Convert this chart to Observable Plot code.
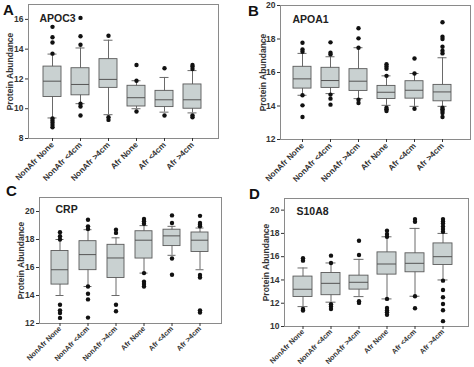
<!DOCTYPE html>
<html>
<head>
<meta charset="utf-8">
<script src="https://cdn.jsdelivr.net/npm/d3@7"></script>
<script src="https://cdn.jsdelivr.net/npm/@observablehq/plot@0.6"></script>
<style>
  html, body { margin: 0; padding: 0; background: #fff; }
  #root { position: relative; width: 474px; height: 367px; overflow: hidden; font-family: "Liberation Sans", Arial, sans-serif; }
  .panel { position: absolute; overflow: visible; }
  .letter { position: absolute; font-weight: bold; font-size: 15px; color: #111; }
</style>
</head>
<body>
<div id="root"></div>
<script>
const categories = ["NonAfr None", "NonAfr <4cm", "NonAfr >4cm", "Afr None", "Afr <4cm", "Afr >4cm"];

// Panel A — APOC3
const apoc3Q1 = [10.79, 10.9, 11.4, 10.15, 10.11, 10.0];
const apoc3Median = [11.85, 11.63, 11.97, 10.74, 10.6, 10.6];
const apoc3Q3 = [12.83, 12.72, 13.33, 11.54, 11.2, 11.63];
const apoc3Low = [9.38, 10.34, 9.6, 10.0, 9.77, 9.72];
const apoc3High = [13.67, 14.08, 14.6, 11.88, 12.1, 12.56];
const apoc3Outliers = [
  [15.5, 14.8, 14.45, 13.7, 9.35, 9.2, 9.05, 8.9, 8.75],
  [16.1, 14.87, 14.3, 10.34, 10.15, 9.54],
  [14.9, 9.43, 9.25],
  [12.94, 11.88, 9.81],
  [12.72, 9.54],
  [12.94, 12.83, 12.67, 9.54, 9.43]
];
const apoc3Ticks = [8, 10, 12, 14, 16];

// Panel B — APOA1
const apoa1Q1 = [15.04, 15.08, 14.9, 14.42, 14.44, 14.28];
const apoa1Median = [15.62, 15.52, 15.48, 14.82, 14.94, 14.84];
const apoa1Q3 = [16.34, 16.28, 16.2, 15.2, 15.48, 15.26];
const apoa1Low = [14.64, 14.74, 14.44, 14.04, 13.98, 13.98];
const apoa1High = [17.14, 16.94, 17.48, 15.8, 15.94, 16.88];
const apoa1Outliers = [
  [17.78, 17.38, 17.24, 14.64, 14.04, 13.34],
  [17.8, 17.18, 17.08, 14.68, 14.44, 14.08],
  [18.64, 18.04, 17.48, 14.38, 14.18],
  [16.5, 16.36, 16.22, 15.8, 13.9, 13.8, 13.7],
  [16.84, 15.94, 13.84],
  [19.0, 18.14, 18.0, 17.54, 17.3, 17.14, 13.9, 13.8, 13.7, 13.58, 13.34]
];
const apoa1Ticks = [12, 14, 16, 18, 20];

// Panel C — CRP
const crpQ1 = [14.78, 15.81, 15.25, 16.64, 17.53, 17.11];
const crpMedian = [15.84, 16.92, 16.68, 17.95, 18.26, 17.95];
const crpQ3 = [17.18, 17.88, 17.62, 18.59, 18.7, 18.5];
const crpLow = [14.0, 14.64, 14.0, 15.6, 16.87, 15.84];
const crpHigh = [18.0, 18.7, 18.12, 18.99, 18.94, 18.82];
const crpOutliers = [
  [18.52, 18.24, 18.0, 13.34, 12.94, 12.75, 12.4],
  [19.41, 18.94, 18.75, 14.64, 14.12, 13.72, 12.42],
  [18.7, 18.47, 13.34, 12.87],
  [19.46, 19.3, 19.13, 15.6, 14.99, 14.82, 14.64],
  [19.72, 19.18, 16.64, 15.48],
  [19.69, 19.18, 19.06, 18.94, 15.46, 15.29, 12.94, 12.78]
];
const crpTicks = [12, 14, 16, 18, 20];

// Panel D — S10A8
const s10a8Q1 = [12.54, 12.69, 13.17, 14.46, 14.66, 15.29];
const s10a8Median = [13.2, 13.71, 13.8, 15.37, 15.43, 16.0];
const s10a8Q3 = [14.29, 14.6, 14.37, 16.37, 16.29, 17.14];
const s10a8Low = [11.71, 12.09, 12.57, 12.37, 12.6, 14.0];
const s10a8High = [15.03, 15.46, 15.77, 17.71, 18.43, 18.0];
const s10a8Outliers = [
  [15.86, 15.66, 11.51, 11.37],
  [16.09, 15.46, 11.91, 11.71, 11.51],
  [17.37, 16.14, 12.17, 12.03],
  [18.23, 17.94, 17.71, 12.37, 11.6, 11.37, 11.23, 11.0],
  [19.23, 19.0, 12.6, 11.57],
  [19.23, 19.03, 18.86, 18.6, 18.37, 18.14, 13.94, 13.14, 12.51, 11.94, 11.4, 10.46]
];
const s10a8Ticks = [10, 12, 14, 16, 18, 20];

const BOX_FILL = "#c9d1d1";
const BOX_STROKE = "#5a5a5a";

function panel(cfg) {
  const boxes = categories.map((c, i) => ({
    cat: c, q1: cfg.q1[i], med: cfg.med[i], q3: cfg.q3[i], lo: cfg.lo[i], hi: cfg.hi[i]
  }));
  const outs = categories.flatMap((c, i) => cfg.out[i].map(v => ({cat: c, v})));
  return Plot.plot({
    width: cfg.width, height: cfg.height,
    marginLeft: cfg.ml, marginRight: cfg.mr, marginTop: cfg.mt, marginBottom: cfg.mb,
    style: {fontFamily: "'Liberation Sans', Arial, sans-serif", fontSize: "8.5px", fontWeight: "bold", color: "#333", background: "transparent", overflow: "visible"},
    x: {type: "band", domain: categories, paddingInner: cfg.pi, paddingOuter: cfg.po, align: cfg.align},
    y: {domain: cfg.domain},
    marks: [
      Plot.ruleX(boxes, {x: "cat", y1: "lo", y2: "hi", stroke: "#6a6a6a", strokeWidth: 1}),
      Plot.tickY(boxes, {x: "cat", y: "lo", stroke: "#6a6a6a", inset: 4.5}),
      Plot.tickY(boxes, {x: "cat", y: "hi", stroke: "#6a6a6a", inset: 4.5}),
      Plot.barY(boxes, {x: "cat", y1: "q1", y2: "q3", fill: BOX_FILL, stroke: BOX_STROKE, strokeWidth: 0.9}),
      Plot.tickY(boxes, {x: "cat", y: "med", stroke: "#555", strokeWidth: 1}),
      Plot.dot(outs, {x: "cat", y: "v", r: 2.2, fill: "#111", stroke: "none"}),
      Plot.frame({stroke: "#8a8a8a", strokeWidth: 1}),
      Plot.axisY({ticks: cfg.ticks, tickSize: 3, tickPadding: 2, label: "Protein Abundance", labelAnchor: "center", labelOffset: cfg.lo2, labelArrow: "none", fontSize: 8.5}),
      Plot.axisX({tickRotate: -45, tickSize: 3, tickPadding: cfg.xpad, label: null, fontSize: cfg.xfs}),
      Plot.text([cfg.title], {frameAnchor: "top-left", textAnchor: "start", lineAnchor: "top", dx: cfg.tdx, dy: cfg.tdy, fontSize: 10.5, fontWeight: "bold", fill: "#222"})
    ]
  });
}

const root = document.getElementById("root");
function place(node, left, top) {
  node.classList.add("panel");
  node.style.left = left + "px";
  node.style.top = top + "px";
  root.appendChild(node);
}
function letter(t, left, top) {
  const d = document.createElement("div");
  d.className = "letter";
  d.textContent = t;
  d.style.left = left + "px";
  d.style.top = top + "px";
  root.appendChild(d);
}

place(panel({q1: apoc3Q1, med: apoc3Median, q3: apoc3Q3, lo: apoc3Low, hi: apoc3High, out: apoc3Outliers,
  domain: [8, 17], ticks: apoc3Ticks, title: "APOC3", width: 237, height: 185,
  ml: 28, mr: 19, mt: 4, mb: 47, pi: 0.355, po: 0.49, align: 0.455, lo2: 22, tdx: 11, tdy: 10, xfs: 8.2, xpad: 2}), 0, 0);

place(panel({q1: apoa1Q1, med: apoa1Median, q3: apoa1Q3, lo: apoa1Low, hi: apoa1High, out: apoa1Outliers,
  domain: [12, 20], ticks: apoa1Ticks, title: "APOA1", width: 237, height: 185,
  ml: 43, mr: 4, mt: 5, mb: 46, pi: 0.356, po: 0.523, align: 0.4, lo2: 21, tdx: 12, tdy: 10, xfs: 8.2, xpad: 2}), 237, 0);

place(panel({q1: crpQ1, med: crpMedian, q3: crpQ3, lo: crpLow, hi: crpHigh, out: crpOutliers,
  domain: [12, 21], ticks: crpTicks, title: "CRP", width: 237, height: 189,
  ml: 39, mr: 16, mt: 19, mb: 44, pi: 0.397, po: 0.425, align: 0.48, lo2: 22, tdx: 16, tdy: 8, xfs: 7.3, xpad: 1}), 0, 178);

place(panel({q1: s10a8Q1, med: s10a8Median, q3: s10a8Q3, lo: s10a8Low, hi: s10a8High, out: s10a8Outliers,
  domain: [10, 21], ticks: s10a8Ticks, title: "S10A8", width: 237, height: 189,
  ml: 47, mr: 6, mt: 20, mb: 41, pi: 0.331, po: 0.405, align: 0.37, lo2: 22, tdx: 12, tdy: 9, xfs: 7.3, xpad: 1}), 237, 178);

letter("A", 3, 1);
letter("B", 248, 2);
letter("C", 6, 182);
letter("D", 249, 185);
</script>
</body>
</html>
